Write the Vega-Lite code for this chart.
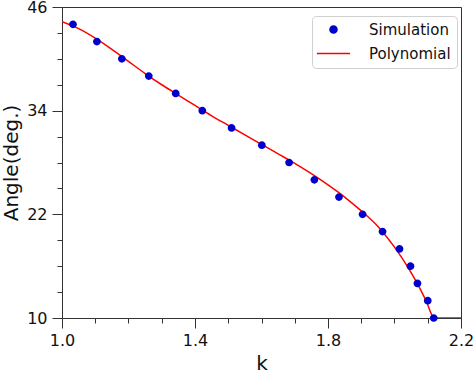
{
  "$schema": "https://vega.github.io/schema/vega-lite/v6.json",
  "width": 399,
  "height": 311,
  "autosize": {"type": "none"},
  "padding": {"left": 62, "top": 7, "right": 13, "bottom": 52},
  "background": "white",
  "config": {
    "font": "DejaVu Sans",
    "view": {"stroke": "#333", "strokeWidth": 1},
    "legend": {
      "orient": "none",
      "legendX": 250,
      "legendY": 9,
      "direction": "vertical",
      "labelFontSize": 15,
      "labelColor": "#111",
      "padding": 6,
      "rowPadding": 8,
      "symbolOffset": 8,
      "labelOffset": 28,
      "symbolSize": 50,
      "symbolStrokeWidth": 1.5,
      "strokeColor": "#d0d0d0",
      "fillColor": "white",
      "cornerRadius": 4
    }
  },
  "datasets": {
    "sim": [
      {"k": 1.033, "angle": 44, "series": "Simulation"},
      {"k": 1.105, "angle": 42, "series": "Simulation"},
      {"k": 1.18, "angle": 40, "series": "Simulation"},
      {"k": 1.261, "angle": 38, "series": "Simulation"},
      {"k": 1.342, "angle": 36, "series": "Simulation"},
      {"k": 1.422, "angle": 34, "series": "Simulation"},
      {"k": 1.51, "angle": 32, "series": "Simulation"},
      {"k": 1.601, "angle": 30, "series": "Simulation"},
      {"k": 1.683, "angle": 28, "series": "Simulation"},
      {"k": 1.759, "angle": 26, "series": "Simulation"},
      {"k": 1.833, "angle": 24, "series": "Simulation"},
      {"k": 1.904, "angle": 22, "series": "Simulation"},
      {"k": 1.964, "angle": 20, "series": "Simulation"},
      {"k": 2.015, "angle": 18, "series": "Simulation"},
      {"k": 2.048, "angle": 16, "series": "Simulation"},
      {"k": 2.069, "angle": 14, "series": "Simulation"},
      {"k": 2.1, "angle": 12, "series": "Simulation"},
      {"k": 2.118, "angle": 10, "series": "Simulation"}
    ],
    "poly": [
      {"k": 1.0, "angle": 44.3, "series": "Polynomial"},
      {"k": 1.05, "angle": 43.5, "series": "Polynomial"},
      {"k": 1.1, "angle": 42.4, "series": "Polynomial"},
      {"k": 1.15, "angle": 41.1, "series": "Polynomial"},
      {"k": 1.2, "angle": 39.7, "series": "Polynomial"},
      {"k": 1.25, "angle": 38.3, "series": "Polynomial"},
      {"k": 1.3, "angle": 37.0, "series": "Polynomial"},
      {"k": 1.35, "angle": 35.8, "series": "Polynomial"},
      {"k": 1.4, "angle": 34.6, "series": "Polynomial"},
      {"k": 1.45, "angle": 33.4, "series": "Polynomial"},
      {"k": 1.5, "angle": 32.3, "series": "Polynomial"},
      {"k": 1.55, "angle": 31.2, "series": "Polynomial"},
      {"k": 1.6, "angle": 30.1, "series": "Polynomial"},
      {"k": 1.65, "angle": 29.0, "series": "Polynomial"},
      {"k": 1.7, "angle": 27.9, "series": "Polynomial"},
      {"k": 1.75, "angle": 26.7, "series": "Polynomial"},
      {"k": 1.8, "angle": 25.4, "series": "Polynomial"},
      {"k": 1.85, "angle": 24.0, "series": "Polynomial"},
      {"k": 1.9, "angle": 22.4, "series": "Polynomial"},
      {"k": 1.95, "angle": 20.6, "series": "Polynomial"},
      {"k": 2.0, "angle": 18.2, "series": "Polynomial"},
      {"k": 2.04, "angle": 15.9, "series": "Polynomial"},
      {"k": 2.07, "angle": 13.9, "series": "Polynomial"},
      {"k": 2.095, "angle": 12.0, "series": "Polynomial"},
      {"k": 2.12, "angle": 10.0, "series": "Polynomial"},
      {"k": 2.2, "angle": 10.0, "series": "Polynomial"}
    ]
  },
  "encoding": {
    "x": {
      "field": "k",
      "type": "quantitative",
      "scale": {"domain": [1.0, 2.2], "nice": false, "zero": false},
      "axis": {
        "title": "k",
        "titleFontSize": 20,
        "titleFontWeight": "normal",
        "titleColor": "#111",
        "titlePadding": 5,
        "values": [1.0, 1.1, 1.2, 1.3, 1.4, 1.5, 1.6, 1.7, 1.8, 1.9, 2.0, 2.1, 2.2],
        "labelExpr": "round((datum.value - 1) * 10) % 4 === 0 ? format(datum.value, '.1f') : ''",
        "labelFontSize": 16,
        "labelColor": "#111",
        "labelPadding": 4,
        "labelFlush": false,
        "labelOverlap": false,
        "tickSize": {"condition": {"test": "round((datum.value - 1) * 10) % 4 === 0", "value": 10}, "value": 5},
        "tickColor": "#333",
        "domainColor": "#333",
        "grid": false
      }
    },
    "y": {
      "field": "angle",
      "type": "quantitative",
      "scale": {"domain": [10, 46], "nice": false, "zero": false},
      "axis": {
        "title": "Angle(deg.)",
        "titleFontSize": 20,
        "titleFontWeight": "normal",
        "titleColor": "#111",
        "titlePadding": 5,
        "values": [10, 13, 16, 19, 22, 25, 28, 31, 34, 37, 40, 43, 46],
        "labelExpr": "(datum.value - 10) % 12 === 0 ? format(datum.value, 'd') : ''",
        "labelFontSize": 16,
        "labelColor": "#111",
        "labelPadding": 5,
        "labelFlush": false,
        "labelOverlap": false,
        "tickSize": {"condition": {"test": "(datum.value - 10) % 12 === 0", "value": 10}, "value": 5},
        "tickColor": "#333",
        "domainColor": "#333",
        "grid": false
      }
    },
    "color": {
      "field": "series",
      "type": "nominal",
      "scale": {"domain": ["Simulation", "Polynomial"], "range": ["#0000CD", "#FF0000"]},
      "legend": {
        "title": null,
        "encode": {
          "symbols": {"update": {"stroke": {"scale": "color", "field": "value"}, "strokeWidth": {"value": 1.5}}}
        }
      }
    }
  },
  "layer": [
    {
      "data": {"name": "poly"},
      "mark": {"type": "line", "strokeWidth": 1.5, "interpolate": "monotone", "clip": true}
    },
    {
      "data": {"name": "sim"},
      "mark": {"type": "point", "filled": true, "opacity": 1, "size": 60},
      "encoding": {
        "shape": {
          "field": "series",
          "type": "nominal",
          "scale": {"domain": ["Simulation", "Polynomial"], "range": ["M-1,0A1,1,0,1,1,1,0A1,1,0,1,1,-1,0Z", "M-4.7,0H4.7"]},
          "legend": {
            "title": null,
            "encode": {
              "symbols": {"update": {"stroke": {"scale": "color", "field": "value"}, "strokeWidth": {"value": 1.5}}}
            }
          }
        }
      }
    }
  ]
}
